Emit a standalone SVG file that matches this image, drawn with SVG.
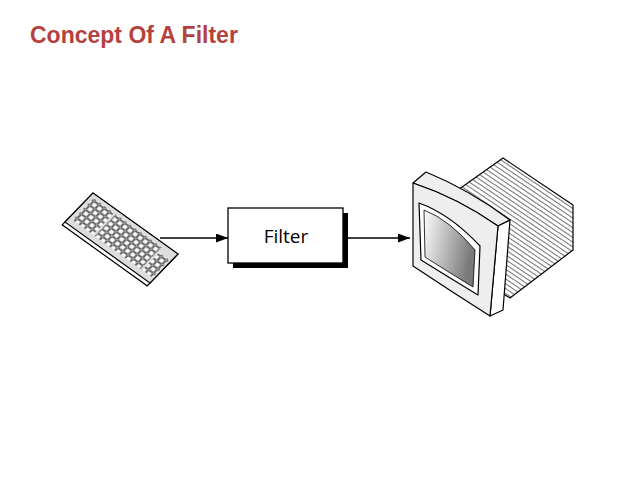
<svg xmlns="http://www.w3.org/2000/svg" width="638" height="478" viewBox="0 0 638 478">
<style>
.ln{stroke:#000;stroke-width:1.3;fill:none}
.k{fill:#fff;stroke:#000;stroke-width:0.6}
</style>
<defs>
<marker id="ah" markerWidth="12" markerHeight="9" refX="12" refY="4.5" orient="auto" markerUnits="userSpaceOnUse"><path d="M0,0 L12,4.5 L0,9 Z" fill="#000"/></marker>
<pattern id="keys" width="6" height="6" patternUnits="userSpaceOnUse"><rect x="0.7" y="0.7" width="4.6" height="4.6" class="k"/></pattern>
<linearGradient id="scr" x1="0" y1="0" x2="1" y2="0.3"><stop offset="0" stop-color="#fff"/><stop offset="1" stop-color="#7a7a7a"/></linearGradient>
<pattern id="stripes" width="4" height="4" patternUnits="userSpaceOnUse" patternTransform="rotate(34)"><rect width="4" height="4" fill="#fff"/><line x1="0" y1="0" x2="4" y2="0" stroke="#000" stroke-width="1.1"/></pattern>
</defs>
<rect width="638" height="478" fill="#fff"/>
<text x="30" y="43" font-family="Liberation Sans, Arial, sans-serif" font-weight="bold" font-size="23" fill="#b5413f">Concept Of A Filter</text>
<g id="keyboard" transform="matrix(0.85 0.61 -0.7 0.725 93 193)">
<path d="M0,0 L100,0 L100,44 L0,44 Z" fill="#fff" stroke="#000" stroke-width="1.2"/>
<rect x="0" y="0" width="100" height="40" fill="#ddd" stroke="#000" stroke-width="1.2"/>
<rect x="4" y="4" width="24" height="30" fill="url(#keys)"/>
<rect x="30" y="4" width="54" height="30" fill="url(#keys)"/>
<rect x="86" y="10" width="12" height="24" fill="url(#keys)"/>
</g>
<g id="filter">
<rect x="233" y="213" width="115" height="55" fill="#000"/>
<rect x="228" y="208" width="115" height="55" fill="#fff" stroke="#000" stroke-width="1.3"/>
<text x="286" y="243" text-anchor="middle" font-family="Open Sans, sans-serif" font-size="19">Filter</text>
</g>
<g id="monitor" stroke="#000" stroke-width="1.2" stroke-linejoin="round">
<path d="M455,192 L503,158 L573,205 L573,250 L510,298 L480,280 Z" fill="url(#stripes)"/>
<path d="M413,183 L426,172 Q470,190 510,220 L498,226 Q458,198 413,183 Z" fill="#eee"/>
<path d="M498,226 L510,220 L503,310 L490,316 Z" fill="#fff"/>
<path d="M413,183 Q458,198 498,226 L490,316 Q452,292 413,266 Z" fill="#eee"/>
<path d="M419,203 Q450,214 480,246 L478,295 Q450,278 421,260 Z" fill="#fff"/>
<path d="M424,210 Q450,220 475,250 L473,287 Q450,273 425,257 Z" fill="url(#scr)" stroke-width="0.8"/>
</g>
<g id="connectors">
<line class="ln" x1="160" y1="238" x2="228" y2="238" marker-end="url(#ah)"/>
<line class="ln" x1="348" y1="238" x2="410" y2="238" marker-end="url(#ah)"/>
</g>
</svg>
